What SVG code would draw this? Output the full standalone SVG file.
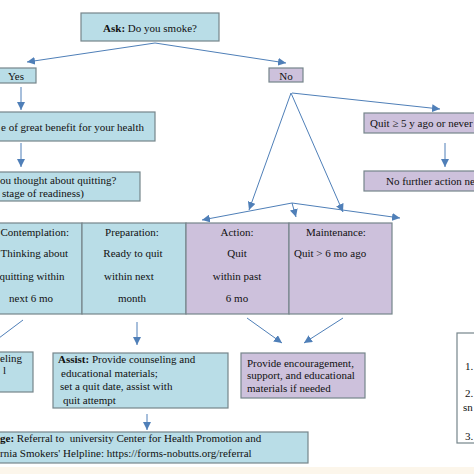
<svg xmlns="http://www.w3.org/2000/svg" width="474" height="474" viewBox="0 0 474 474">
<defs>
<style>
.t{font-family:"Liberation Serif","Times New Roman",serif;font-size:11px;fill:#111111}
.b{font-weight:bold}
.blue{fill:#b9dde7;stroke:#76858b;stroke-width:1.2}
.pur{fill:#cdc1dc;stroke:#76858b;stroke-width:1.2}
.wht{fill:#ffffff;stroke:#76858b;stroke-width:1.2}
.c{fill:none;stroke:#4f7fb8;stroke-width:1}
.m{text-anchor:middle}
</style>
<marker id="ah" markerUnits="userSpaceOnUse" markerWidth="9" markerHeight="8" refX="8" refY="4" orient="auto">
<path d="M0,0 L8,4 L0,8 Z" fill="#4f7fb8"/>
</marker>
</defs>
<rect x="0" y="0" width="474" height="474" fill="#ffffff"/>
<rect x="0" y="467" width="474" height="7" fill="#fcf6eb"/>

<g id="connectors">
<path class="c" d="M155,43 L27,62" marker-end="url(#ah)"/>
<path class="c" d="M155,43 L286,63" marker-end="url(#ah)"/>
<path class="c" d="M21,87 L21,110" marker-end="url(#ah)"/>
<path class="c" d="M21,143 L21,167" marker-end="url(#ah)"/>
<path class="c" d="M292,93 L440,109" marker-end="url(#ah)"/>
<path class="c" d="M445,143 L445,167" marker-end="url(#ah)"/>
<path class="c" d="M291,93 L249,210" marker-end="url(#ah)"/>
<path class="c" d="M291,93 L343,212" marker-end="url(#ah)"/>
<path class="c" d="M292,203 L202,220" marker-end="url(#ah)"/>
<path class="c" d="M292,203 L296,217" marker-end="url(#ah)"/>
<path class="c" d="M292,203 L400,218" marker-end="url(#ah)"/>
<path class="c" d="M23,320 L-5,341"/>
<path class="c" d="M137,322 L137,345" marker-end="url(#ah)"/>
<path class="c" d="M247,318 L282,343" marker-end="url(#ah)"/>
<path class="c" d="M343,318 L304,343" marker-end="url(#ah)"/>
<path class="c" d="M147,414 L147,430" marker-end="url(#ah)"/>
</g>

<g id="ask">
<rect class="blue" x="81" y="13" width="138" height="28"/>
<text class="t m" x="150" y="32"><tspan class="b">Ask:</tspan> Do you smoke?</text>
</g>

<g id="yes">
<rect class="blue" x="-2" y="68" width="38" height="15"/>
<text class="t m" x="16" y="80">Yes</text>
</g>

<g id="no">
<rect class="pur" x="269" y="68" width="34" height="14"/>
<text class="t m" x="286" y="79.5">No</text>
</g>

<g id="benefit">
<rect class="blue" x="-2" y="112" width="157" height="29"/>
<text class="t" x="1" y="131">e of great benefit for your health</text>
</g>

<g id="thought">
<rect class="blue" x="-2" y="172" width="142" height="29"/>
<text class="t" x="0" y="184">ou thought about quitting?</text>
<text class="t" x="2" y="197">stage of readiness)</text>
</g>

<g id="quit5">
<rect class="pur" x="364" y="113" width="112" height="20"/>
<text class="t" x="370" y="127">Quit ≥ 5 y ago or never</text>
</g>

<g id="nofurther">
<rect class="pur" x="364" y="171" width="112" height="20"/>
<text class="t" x="386" y="185">No further action ne</text>
</g>

<g id="contemplation">
<rect class="blue" x="-30" y="223" width="112" height="91"/>
<text class="t" x="0.5" y="236">Contemplation:</text>
<text class="t" x="0.5" y="257">Thinking about</text>
<text class="t m" x="32" y="280">quitting within</text>
<text class="t m" x="31" y="302">next 6 mo</text>
</g>

<g id="preparation">
<rect class="blue" x="82" y="223" width="104" height="91"/>
<text class="t m" x="132" y="236">Preparation:</text>
<text class="t m" x="133" y="257">Ready to quit</text>
<text class="t m" x="129" y="280">within next</text>
<text class="t m" x="132" y="302">month</text>
</g>

<g id="action">
<rect class="pur" x="186" y="223" width="103" height="91"/>
<text class="t m" x="237" y="236">Action:</text>
<text class="t m" x="237" y="257">Quit</text>
<text class="t m" x="237" y="280">within past</text>
<text class="t m" x="237" y="302">6 mo</text>
</g>

<g id="maintenance">
<rect class="pur" x="289" y="223" width="103" height="91"/>
<text class="t m" x="336" y="236">Maintenance:</text>
<text class="t" x="294" y="257">Quit &gt; 6 mo ago</text>
</g>

<g id="counsel">
<rect class="blue" x="-2" y="352" width="35" height="40"/>
<text class="t" x="0" y="362">eling</text>
<text class="t" x="3" y="374">l</text>
</g>

<g id="assist">
<rect class="blue" x="53" y="353" width="175" height="55"/>
<text class="t" x="58" y="363"><tspan class="b">Assist:</tspan> Provide counseling and</text>
<text class="t" x="61" y="377">educational materials;</text>
<text class="t" x="60" y="390">set a quit date, assist with</text>
<text class="t" x="63" y="404">quit attempt</text>
</g>

<g id="encourage">
<rect class="pur" x="241" y="353" width="124" height="45"/>
<text class="t" x="247" y="367">Provide encouragement,</text>
<text class="t" x="247" y="379">support, and educational</text>
<text class="t" x="247" y="392">materials if needed</text>
</g>

<g id="referral">
<rect class="blue" x="-2" y="432" width="310" height="31"/>
<text class="t" x="0" y="442"><tspan class="b">ge:</tspan> Referral to&#160; university Center for Health Promotion and</text>
<text class="t" x="0" y="457">rnia Smokers' Helpline: https://forms-nobutts.org/referral</text>
</g>

<g id="legend">
<rect class="wht" x="457" y="333" width="20" height="110"/>
<text class="t" x="465" y="370">1.</text>
<text class="t" x="465" y="397">2.</text>
<text class="t" x="463" y="411">sn</text>
<text class="t" x="465" y="440">3.</text>
</g>
</svg>
